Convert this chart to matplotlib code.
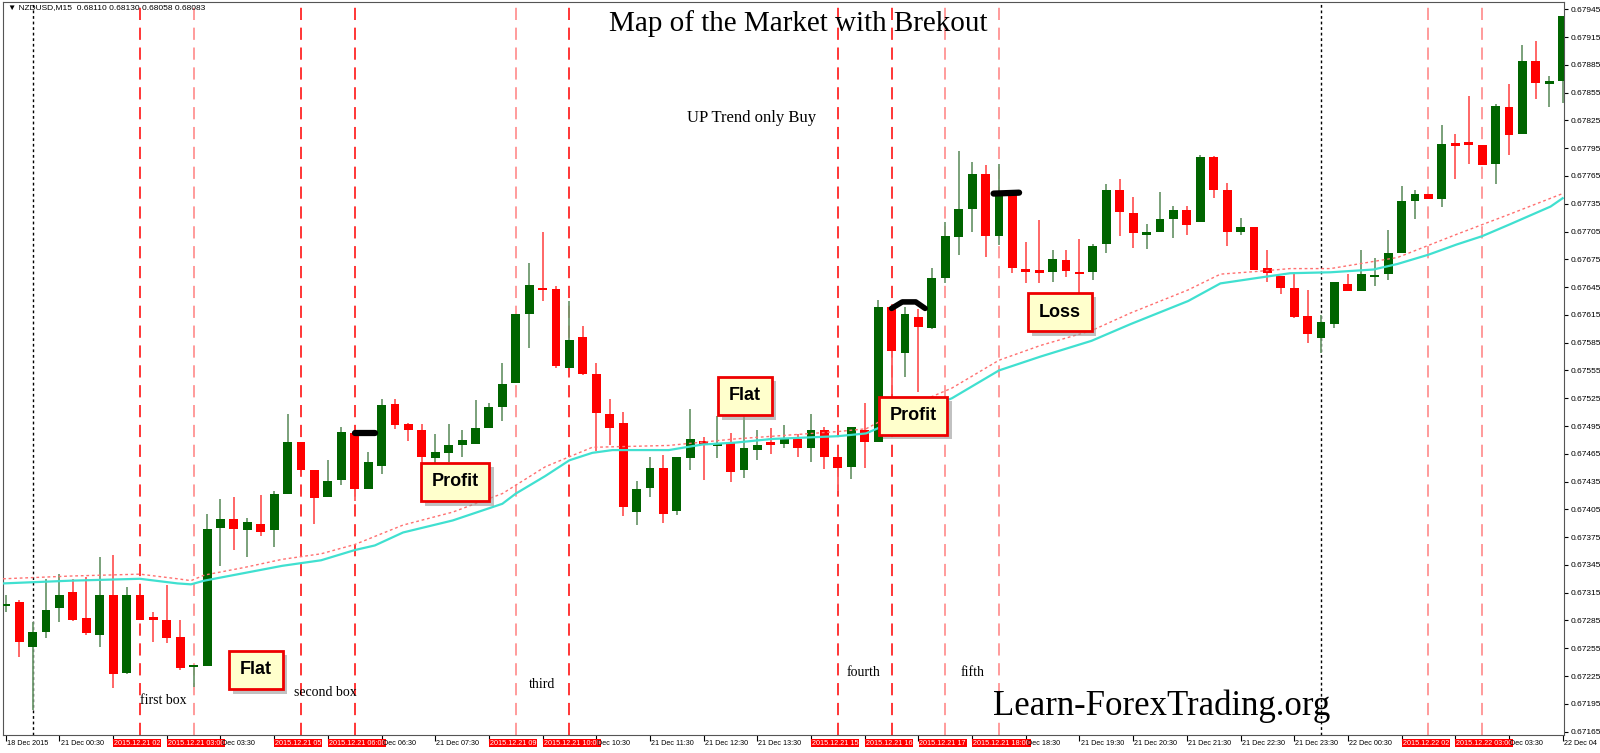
import matplotlib
matplotlib.use("Agg")
import matplotlib.pyplot as plt
import matplotlib.patheffects as pe
import numpy as np

W, H = 1600, 753
# bar index 0 = 2015.12.21 02:00 (M15)
first_bar = -10
opens = [0.67302,0.67305,0.67256,0.67272,0.67298,0.67316,0.67288,0.67269,0.67313,0.67228,
 0.67313,0.67288,0.67286,0.67267,0.67236,0.67236,0.67385,0.67395,0.67383,0.67389,
 0.67383,0.67422,0.67478,0.67447,0.67418,0.67437,0.67487,0.67427,0.67452,0.67519,
 0.67497,0.67491,0.67460,0.67466,0.67475,0.67476,0.67493,0.67516,0.67541,0.67616,
 0.67644,0.67643,0.67558,0.67591,0.67551,0.67508,0.67498,0.67402,0.67428,0.67450,
 0.67403,0.67460,0.67479,0.67475,0.67477,0.67448,0.67469,0.67478,0.67476,0.67481,
 0.67471,0.67491,0.67461,0.67451,0.67491,0.67478,0.67623,0.67574,0.67613,0.67601,
 0.67655,0.67699,0.67729,0.67767,0.67700,0.67748,0.67664,0.67663,0.67661,0.67674,
 0.67661,0.67661,0.67692,0.67750,0.67725,0.67703,0.67705,0.67719,0.67728,0.67715,
 0.67786,0.67750,0.67705,0.67710,0.67666,0.67657,0.67644,0.67614,0.67590,0.67605,
 0.67648,0.67641,0.67657,0.67659,0.67682,0.67738,0.67746,0.67740,0.67800,0.67801,
 0.67799,0.67778,0.67839,0.67810,0.67889,0.67866,0.67868]
highs = [0.67312,0.67307,0.67283,0.67330,0.67335,0.67330,0.67332,0.67353,0.67356,0.67321,
 0.67313,0.67294,0.67323,0.67286,0.67236,0.67400,0.67416,0.67418,0.67396,0.67420,
 0.67425,0.67508,0.67478,0.67447,0.67458,0.67494,0.67487,0.67467,0.67524,0.67524,
 0.67498,0.67497,0.67486,0.67497,0.67491,0.67523,0.67520,0.67563,0.67616,0.67671,
 0.67705,0.67646,0.67630,0.67603,0.67563,0.67524,0.67510,0.67436,0.67462,0.67464,
 0.67462,0.67513,0.67483,0.67506,0.67487,0.67509,0.67491,0.67493,0.67496,0.67486,
 0.67508,0.67494,0.67461,0.67494,0.67520,0.67631,0.67627,0.67624,0.67621,0.67666,
 0.67715,0.67792,0.67780,0.67777,0.67778,0.67750,0.67694,0.67717,0.67685,0.67685,
 0.67697,0.67692,0.67756,0.67762,0.67742,0.67713,0.67748,0.67733,0.67733,0.67788,
 0.67787,0.67757,0.67720,0.67710,0.67685,0.67657,0.67660,0.67642,0.67615,0.67651,
 0.67659,0.67685,0.67676,0.67707,0.67754,0.67750,0.67746,0.67820,0.67810,0.67851,
 0.67799,0.67843,0.67864,0.67906,0.67911,0.67873,0.67938]
lows = [0.67294,0.67245,0.67188,0.67266,0.67283,0.67284,0.67269,0.67256,0.67212,0.67227,
 0.67285,0.67262,0.67261,0.67231,0.67213,0.67236,0.67344,0.67361,0.67353,0.67376,
 0.67364,0.67422,0.67448,0.67389,0.67418,0.67431,0.67414,0.67427,0.67443,0.67492,
 0.67479,0.67455,0.67452,0.67456,0.67461,0.67476,0.67493,0.67500,0.67541,0.67579,
 0.67630,0.67558,0.67558,0.67550,0.67468,0.67474,0.67398,0.67388,0.67418,0.67390,
 0.67399,0.67448,0.67437,0.67460,0.67435,0.67439,0.67458,0.67465,0.67471,0.67461,
 0.67456,0.67449,0.67425,0.67438,0.67450,0.67478,0.67530,0.67548,0.67532,0.67600,
 0.67649,0.67680,0.67705,0.67677,0.67691,0.67660,0.67649,0.67649,0.67650,0.67656,
 0.67638,0.67653,0.67682,0.67700,0.67687,0.67686,0.67705,0.67698,0.67701,0.67715,
 0.67741,0.67689,0.67701,0.67663,0.67651,0.67638,0.67612,0.67585,0.67574,0.67601,
 0.67641,0.67641,0.67646,0.67653,0.67682,0.67719,0.67740,0.67731,0.67762,0.67778,
 0.67777,0.67756,0.67788,0.67810,0.67848,0.67839,0.67844]
closes = [0.67302,0.67262,0.67272,0.67296,0.67313,0.67285,0.67271,0.67312,0.67227,0.67313,
 0.67286,0.67287,0.67266,0.67234,0.67236,0.67384,0.67395,0.67384,0.67391,0.67381,
 0.67422,0.67478,0.67448,0.67417,0.67436,0.67489,0.67427,0.67456,0.67518,0.67496,
 0.67491,0.67462,0.67467,0.67475,0.67480,0.67493,0.67516,0.67540,0.67616,0.67647,
 0.67643,0.67560,0.67588,0.67551,0.67509,0.67493,0.67407,0.67427,0.67450,0.67400,
 0.67462,0.67481,0.67476,0.67477,0.67445,0.67471,0.67475,0.67474,0.67481,0.67471,
 0.67491,0.67461,0.67450,0.67494,0.67478,0.67623,0.67576,0.67616,0.67602,0.67655,
 0.67700,0.67729,0.67767,0.67700,0.67743,0.67666,0.67663,0.67662,0.67675,0.67662,
 0.67660,0.67689,0.67750,0.67726,0.67703,0.67704,0.67719,0.67728,0.67712,0.67785,
 0.67750,0.67705,0.67710,0.67664,0.67660,0.67644,0.67613,0.67594,0.67607,0.67651,
 0.67641,0.67659,0.67659,0.67682,0.67738,0.67746,0.67740,0.67800,0.67799,0.67800,
 0.67777,0.67841,0.67809,0.67889,0.67865,0.67868,0.67938]

ma_x = [-10.2,-5.1,0,2.8,3.8,4.8,7.7,10.6,13.5,16.0,17.5,19.6,23.3,27.0,28.0,30.2,32.0,33.7,35.2,
        39.4,41.9,44.3,47.1,52.0,54.1,57.1,60.5,64.0,67.1,70.9,73.8,78.1,80.5,83.3,85.7,88.7,
        91.9,93.7,96.0,98.1,100.0,102.1,105.1,106.0]
ma_y = [0.67325,0.67328,0.67330,0.67325,0.67324,0.67328,0.67336,0.67344,0.67350,0.67361,0.67366,
        0.67380,0.67393,0.67411,0.67422,0.67441,0.67458,0.67466,0.67469,0.67469,0.67475,0.67477,
        0.67481,0.67484,0.67487,0.67506,0.67525,0.67555,0.67570,0.67587,0.67605,0.67630,0.67649,
        0.67655,0.67660,0.67661,0.67664,0.67670,0.67680,0.67691,0.67700,0.67713,0.67732,0.67741]
ma2_x = [-10.2,-5.1,0,2.8,3.8,4.8,7.7,10.6,13.5,16.0,19.6,23.3,27.0,30.2,33.7,39.4,44.3,52.0,54.1,
         57.1,60.5,64.0,67.1,70.9,73.8,78.1,80.5,83.3,85.7,88.7,93.7,98.1,102.1,106.0]
ma2_y = [0.67330,0.67333,0.67335,0.67330,0.67328,0.67334,0.67342,0.67351,0.67357,0.67367,0.67388,
         0.67402,0.67422,0.67451,0.67472,0.67474,0.67481,0.67489,0.67492,0.67515,0.67536,0.67566,
         0.67582,0.67598,0.67617,0.67642,0.67659,0.67662,0.67665,0.67665,0.67677,0.67702,0.67724,0.67746]

vlines_red = [0, 4, 12, 16, 28, 32, 52, 56, 60, 64, 96, 100]
vlines_alpha = [1, 0.5, 1, 1, 0.5, 1, 1, 1, 0.5, 0.5, 0.5, 0.5]
vlines_dot = [-8, 88]

tick_pos = list(range(-10, 107, 4))
tick_labels = ["18 Dec 2015","21 Dec 00:30","2015.12.21 02","2015.12.21 03:00","Dec 03:30",
 "2015.12.21 05","2015.12.21 06:00","Dec 06:30","21 Dec 07:30","2015.12.21 09","2015.12.21 10:00",
 "Dec 10:30","21 Dec 11:30","21 Dec 12:30","21 Dec 13:30","2015.12.21 15","2015.12.21 16",
 "2015.12.21 17","2015.12.21 18:00","Dec 18:30","21 Dec 19:30","21 Dec 20:30","21 Dec 21:30",
 "21 Dec 22:30","21 Dec 23:30","22 Dec 00:30","2015.12.22 02","2015.12.22 03:00","Dec 03:30","22 Dec 04"]
tick_red = [2,3,5,6,9,10,15,16,17,18,26,27]

price_ticks = [0.67945 - 0.0003*k for k in range(27)]

fig = plt.figure(figsize=(16, 7.53), dpi=100)
ax = fig.add_axes([0.002, 1-735/H, 1564/W-0.002, 733/H])
ax.set_xlim(-10.19, 106.1)
ax.set_ylim(0.671613, 0.679529)

x = np.arange(first_bar, first_bar+len(opens))
o, h, l, c = map(np.array, (opens, highs, lows, closes))
up = c >= o
wick_col = np.where(up, '#6f9a6f', '#ff5a5a')
ax.vlines(x, l, h, colors=wick_col, lw=1.3, zorder=2)
body_col = np.where(up, '#006400', '#ff0000')
hgt = np.maximum(np.abs(c-o), 0.000025)
bot = np.minimum(o, c) - np.where(np.abs(c-o) < 0.000025, 0.0000125, 0)
ax.bar(x, hgt, bottom=bot, width=0.66, color=body_col, zorder=3, linewidth=0)

for v, a in zip(vlines_red, vlines_alpha):
    ax.axvline(v, color='#ff0000', alpha=a, lw=1.1, ls=(0, (8, 5)), zorder=1)
for v in vlines_dot:
    ax.axvline(v, color='black', lw=1, ls=(0, (2, 2)), zorder=1)

ax.plot(ma2_x, ma2_y, color='#ff7070', lw=1, ls=(0, (2, 2)), zorder=4)
ax.plot(ma_x, ma_y, color='#40e0d0', lw=1.6, zorder=4)

ax.plot([16, 17.5], [0.67487, 0.67487], color='black', lw=4.5, solid_capstyle='round', zorder=5)
ax.plot([56, 56.8, 57.8, 58.5], [0.67622, 0.67629, 0.67629, 0.67622], color='black', lw=4, solid_capstyle='round', zorder=5)
ax.plot([63.6, 65.5], [0.67746, 0.67747], color='black', lw=4.5, solid_capstyle='round', zorder=5)

for s in ax.spines.values():
    s.set_color('#555555'); s.set_linewidth(0.8)
ax.yaxis.tick_right()
ax.set_yticks(price_ticks)
ax.set_yticklabels([f"{p:.5f}" for p in price_ticks], fontsize=6, family='Liberation Sans')
ax.tick_params(axis='y', length=3, pad=1.5, colors='black')
ax.set_xticks(tick_pos)
ax.set_xticklabels([])
ax.tick_params(axis='x', length=4, direction='out')
for k, (tp, lab) in enumerate(zip(tick_pos, tick_labels)):
    red = k in tick_red
    ax.text(tp+0.08, 0.671613 - 0.00005, lab, fontsize=5.2, family='Liberation Sans',
            va='top', ha='left', color='white' if red else 'black', clip_on=False,
            bbox=dict(boxstyle='square,pad=0.12', fc='#ff0000', ec='none') if red else None)

def px(xp, yp):
    return xp/W, 1-yp/H

fig.text(*px(8, 8), "▼ NZDUSD,M15  0.68110 0.68130 0.68058 0.68083", fontsize=6, family='Liberation Sans', va='center', ha='left')
fig.text(*px(798, 24), "Map of the Market with Brekout", fontsize=21, family='Liberation Serif', ha='center', va='center')
fig.text(*px(752, 118), "UP Trend only Buy", fontsize=12, family='Liberation Serif', ha='center', va='center')
fig.text(*px(1162, 706), "Learn-ForexTrading.org", fontsize=25, family='Liberation Serif', ha='center', va='center')
for t, xx, yy in [("first box", 163, 700), ("second box", 325, 692), ("third", 542, 685),
                  ("fourth", 864, 672), ("fifth", 973, 672)]:
    fig.text(*px(xx, yy), t, fontsize=10, family='Liberation Serif', ha='center', va='center')
for t, xx, yy in [("Flat", 256, 670), ("Profit", 455, 482), ("Flat", 745, 396),
                  ("Profit", 913, 416), ("Loss", 1060, 312)]:
    tx = fig.text(*px(xx, yy), t, fontsize=13, weight='bold', family='Liberation Sans', ha='center', va='center',
             bbox=dict(boxstyle='square,pad=0.6', fc='#ffffcc', ec='#ee0000', lw=2), zorder=10)
    tx.get_bbox_patch().set_path_effects([pe.withSimplePatchShadow(offset=(3, -3), shadow_rgbFace='#999999', alpha=0.6)])

fig.savefig('out.png', dpi=100, facecolor='white')
